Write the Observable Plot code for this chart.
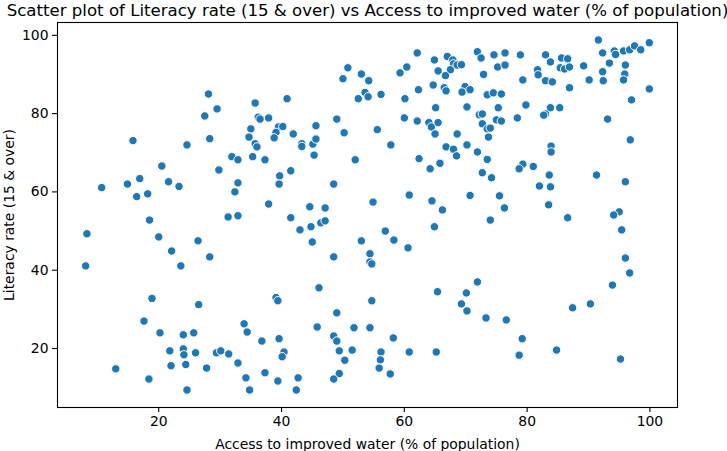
<!DOCTYPE html>
<html>
<head>
<meta charset="utf-8">
<script src="https://cdn.jsdelivr.net/npm/d3@7"></script>
<script src="https://cdn.jsdelivr.net/npm/@observablehq/plot@0.6"></script>
<style>
  html, body { margin: 0; padding: 0; background: #fff; }
</style>
</head>
<body>
<div id="chart"></div>
<script>
// Access to improved water (% of population), one entry per country
const water = [
  28.1, 29.5, 27.5, 15.8, 24.6, 28.3, 20.5,
  35.7, 40.9, 36.2, 36.5, 37.9, 35.0, 34.7, 35.7, 36.0, 39.5, 40.2, 39.1, 38.8,
  41.9, 43.3, 43.3, 45.1, 45.6, 45.6, 45.3, 49.0, 50.2, 50.0, 50.8, 53.0, 54.2,
  53.6, 52.5, 54.1, 31.9, 32.9, 35.3, 37.3, 52.0,
  62.1, 64.9, 67.0, 67.9, 68.0, 68.6, 69.3, 67.5, 65.5, 66.7, 71.9, 72.5, 74.6,
  76.4, 78.9, 75.2, 76.4, 72.9, 60.4, 59.3, 56.2, 62.3, 64.7, 66.5, 66.8, 69.9,
  69.4, 70.7, 73.5, 74.5, 75.8, 79.3, 60.1, 65.1, 70.2, 75.3, 79.8, 60.0, 62.1,
  64.0, 64.4, 65.5, 65.0, 68.6, 72.2, 72.7, 72.7, 73.5, 74.0, 73.7, 75.0, 75.8,
  78.4, 55.6, 57.8, 66.8, 68.0, 68.5, 70.2, 71.9, 73.5, 62.4, 65.8, 79.3,
  91.6, 92.3, 94.2, 94.4, 95.7, 96.7, 97.5, 98.5, 99.9, 83.0, 83.8, 85.6, 86.6,
  85.4, 86.1, 86.9, 81.7, 81.8, 83.0, 84.1, 89.2, 93.4, 92.3, 90.1, 92.4, 96.0,
  95.9, 95.7, 86.9, 99.9, 97.0, 83.8, 85.3, 83.0, 82.7, 93.1, 96.8, 83.9, 83.9,
  81.0,
  10.7, 14.9, 16.9, 16.4, 18.2, 21.6, 23.3, 18.5, 20.0, 8.3, 26.4, 22.1, 28.3,
  8.1, 23.6, 18.9, 26.5,
  29.8, 39.7, 41.5, 39.6, 32.9, 32.4, 48.5, 37.9, 31.3, 32.9, 41.5, 44.6, 47.1,
  43.0, 44.8, 46.4, 47.1, 45.0, 53.0, 54.4, 54.4, 54.7, 48.5, 46.1, 39.1, 39.4,
  64.2, 72.7, 74.2, 78.7, 60.8, 54.9, 64.5, 66.2, 70.7, 75.5, 76.3, 74.0, 64.9,
  56.9, 58.3, 60.6, 71.9, 65.4, 70.1, 69.3, 54.7,
  83.6, 91.3, 82.0, 83.8, 96.0, 83.5, 86.6, 95.0, 94.1, 95.4, 96.0, 96.7, 93.9,
  90.3, 87.4,
  17.6, 20.2, 24.0, 25.7, 21.8, 24.0, 24.1, 26.0, 29.4, 13.0, 22.0, 24.4, 27.8,
  18.4, 24.6,
  49.0, 33.9, 34.4, 45.8, 51.8, 54.4, 36.8, 39.6, 48.5, 49.0, 49.4, 51.5, 50.3,
  30.1, 31.4, 40.4, 40.1, 32.9, 37.3, 34.2, 39.4, 42.7, 49.4, 48.5, 34.8, 42.4,
  70.2, 73.3, 76.6, 58.2, 79.2, 56.2, 60.8, 65.2, 56.1, 55.9, 57.7, 78.7,
  84.8, 95.2
];

// Literacy rate (15 & over), same order as water
const literacy = [
  85.0, 81.2, 79.4, 73.1, 72.0, 73.6, 66.6,
  82.7, 83.8, 79.1, 78.6, 78.9, 76.1, 74.0, 72.3, 71.5, 76.6, 76.7, 75.2, 73.8,
  74.8, 72.3, 71.6, 72.2, 76.9, 73.5, 69.4, 78.6, 75.1, 88.9, 91.7, 90.1, 88.4,
  85.4, 83.8, 84.3, 69.0, 68.2, 69.0, 68.2, 68.2,
  95.5, 93.7, 94.6, 93.7, 92.7, 92.4, 92.5, 91.2, 90.9, 89.7, 95.8, 94.2, 95.0,
  95.5, 95.0, 91.9, 92.4, 90.0, 91.9, 90.4, 84.9, 86.1, 87.3, 86.6, 85.8, 86.9,
  85.5, 86.1, 84.8, 85.3, 85.0, 88.6, 83.8, 81.5, 81.7, 81.5, 82.2, 78.9, 78.1,
  77.7, 76.6, 77.7, 74.8, 74.8, 79.7, 79.9, 77.4, 76.1, 76.3, 74.0, 78.4, 78.1,
  78.9, 75.9, 72.0, 71.5, 70.9, 69.2, 72.0, 70.2, 68.3, 68.5, 67.3, 67.1,
  98.8, 95.5, 96.0, 95.1, 96.0, 96.3, 97.3, 96.3, 98.1, 95.0, 93.2, 94.2, 94.0,
  91.7, 91.4, 91.9, 91.2, 89.9, 88.4, 88.1, 92.2, 92.9, 90.7, 88.6, 88.4, 92.4,
  90.1, 88.6, 86.6, 86.3, 83.5, 81.5, 81.5, 79.9, 79.6, 78.6, 73.3, 71.7, 70.2,
  66.5,
  61.1, 62.0, 63.4, 58.8, 59.5, 62.6, 61.4, 52.8, 48.5, 49.3, 47.5, 44.9, 43.4,
  41.1, 41.1, 32.8, 31.2,
  65.6, 64.1, 65.4, 62.0, 62.3, 60.0, 62.0, 56.9, 53.6, 53.9, 53.4, 56.2, 55.9,
  50.3, 51.1, 52.1, 52.6, 47.2, 47.5, 44.2, 42.1, 41.6, 43.4, 35.5, 33.0, 32.2,
  65.9, 64.9, 63.6, 65.9, 59.2, 57.4, 57.7, 55.4, 59.1, 59.0, 55.9, 52.8, 51.1,
  50.0, 47.7, 45.7, 37.0, 34.5, 34.2, 31.4, 32.2,
  64.3, 64.3, 61.5, 61.3, 62.6, 56.7, 53.4, 54.9, 54.1, 50.3, 43.1, 39.3, 36.2,
  31.4, 30.4,
  27.0, 24.0, 23.5, 24.0, 19.4, 19.9, 18.4, 18.9, 18.9, 14.8, 15.6, 15.9, 15.0,
  12.2, 9.4,
  29.1, 26.3, 24.2, 25.5, 25.3, 25.3, 21.9, 22.5, 23.2, 21.9, 19.4, 19.6, 17.0,
  19.4, 18.6, 19.1, 17.9, 16.3, 13.8, 12.5, 11.7, 12.5, 13.6, 12.2, 9.4, 9.4,
  29.6, 27.8, 27.3, 22.7, 22.5, 19.1, 19.1, 19.1, 17.1, 15.0, 13.5, 18.3,
  19.6, 17.3
];

const ticks = [20, 40, 60, 80, 100];

const titleText = "Scatter plot of Literacy rate (15 & over) vs Access to improved water (% of population)";
const xLabel = "Access to improved water (% of population)";
const yLabel = "Literacy rate (15 & over)";

const rows = water.map((w, i) => ({water: w, literacy: literacy[i]}));

// Pad each domain by 5% of the data span on both sides
function padded(values) {
  const [lo, hi] = d3.extent(values);
  const m = (hi - lo) * 0.05;
  return [lo - m, hi + m];
}

const font = "DejaVu Sans, sans-serif";

const chart = Plot.plot({
  width: 727,
  height: 451,
  marginTop: 22,
  marginLeft: 57,
  marginRight: 50,
  marginBottom: 44,
  style: {fontFamily: font, fontSize: "13.9px", color: "#000", background: "#fff"},
  x: {domain: padded(water), ticks: ticks, label: null},
  y: {domain: padded(literacy), ticks: ticks, label: null},
  marks: [
    Plot.dot(rows, {
      x: "water", y: "literacy", r: 4.2,
      fill: "#1f77b4", stroke: "#fff", strokeWidth: 1
    }),
    Plot.frame({stroke: "#000", strokeWidth: 1.1}),
    Plot.axisX(ticks, {
      tickSize: 5, tickPadding: 4, strokeWidth: 1.1,
      fontSize: 13.9, fill: "#000", label: null
    }),
    Plot.axisY(ticks, {
      tickSize: 5, tickPadding: 4, strokeWidth: 1.1,
      fontSize: 13.9, fill: "#000", label: null
    }),
    Plot.text([titleText], {
      frameAnchor: "top", dy: -18, fontSize: 16.6, fill: "#000", textAnchor: "middle"
    }),
    Plot.text([xLabel], {
      frameAnchor: "bottom", dy: 41, fontSize: 13.9, fill: "#000", textAnchor: "middle"
    }),
    Plot.text([yLabel], {
      frameAnchor: "left", dx: -48, rotate: -90, fontSize: 13.9, fill: "#000", textAnchor: "middle"
    })
  ]
});

document.getElementById("chart").appendChild(chart);
</script>
</body>
</html>
